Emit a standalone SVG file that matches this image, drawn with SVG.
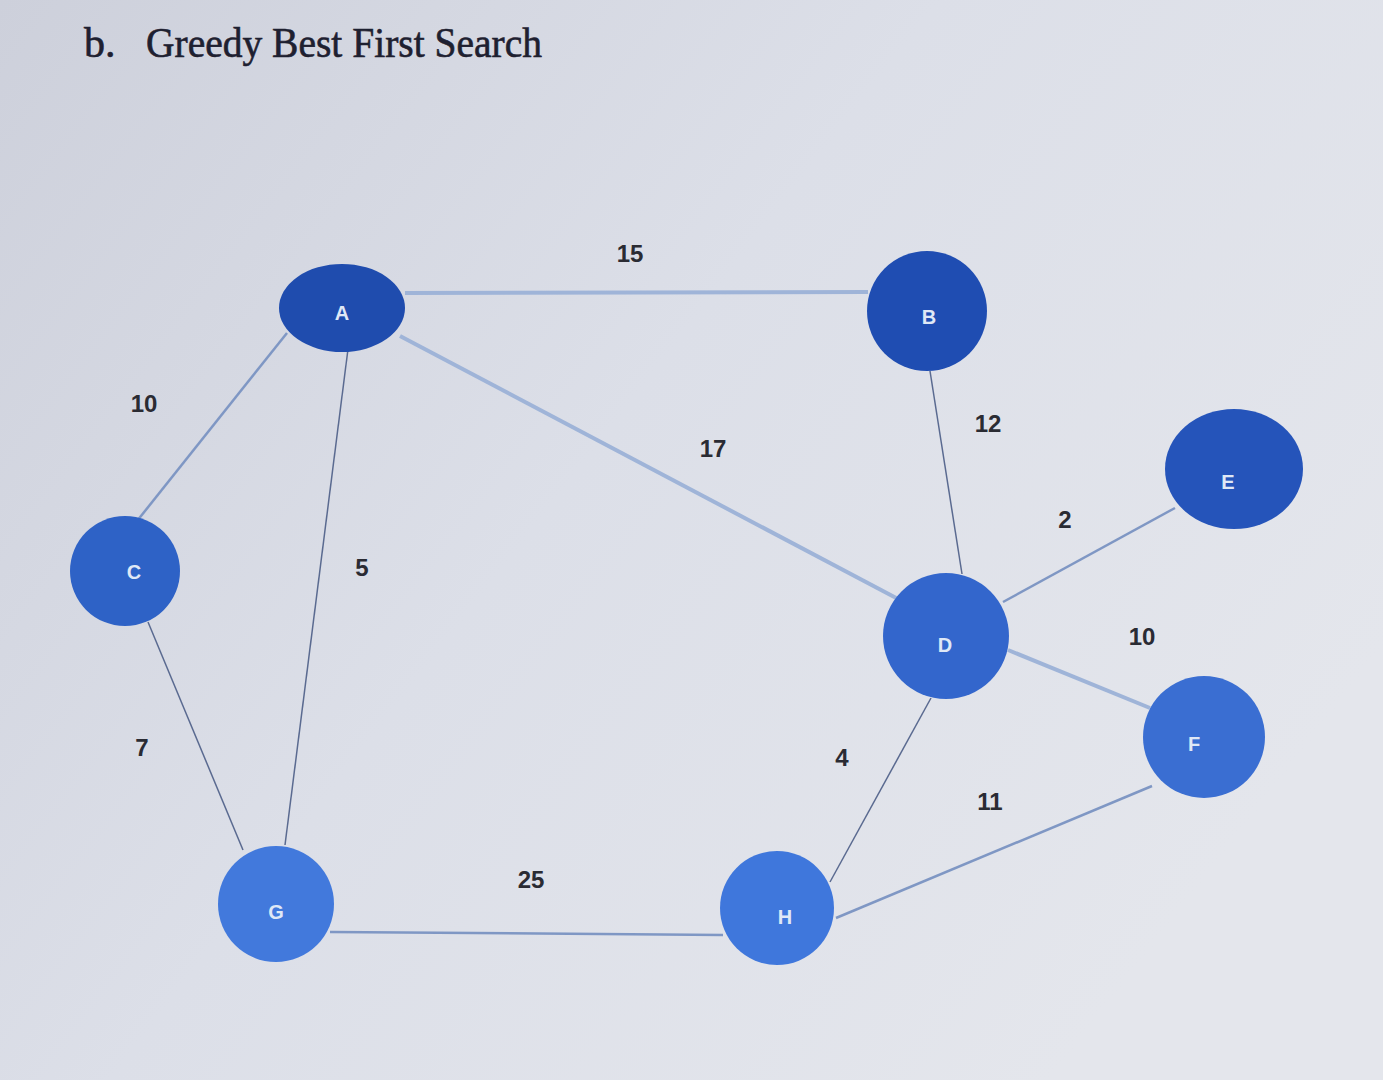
<svg xmlns="http://www.w3.org/2000/svg" width="1383" height="1080" viewBox="0 0 1383 1080">
  <defs>
    <linearGradient id="bg" x1="0" y1="0" x2="1" y2="0.6">
      <stop offset="0" stop-color="#cdd0db"/>
      <stop offset="0.5" stop-color="#dcdfe8"/>
      <stop offset="1" stop-color="#e4e6ec"/>
    </linearGradient>
  </defs>
  <style>
    .title { font-family: "Liberation Serif", "Times New Roman", serif; font-size: 42px; fill: #1e2030; stroke: #1e2030; stroke-width: 0.6; }
    .node-label { font-family: "Liberation Sans", Arial, sans-serif; font-weight: bold; font-size: 20px; fill: #dfe8f6; text-anchor: middle; }
    .edge-label { font-family: "Liberation Sans", Arial, sans-serif; font-weight: bold; font-size: 24px; fill: #2a2b33; text-anchor: middle; }
    .thin { stroke: #5a6a90; stroke-width: 1.5; fill: none; }
    .mid { stroke: #7f97c4; stroke-width: 2.5; fill: none; }
    .thick { stroke: #9fb4d8; stroke-width: 4; fill: none; }
  </style>
  <rect x="0" y="0" width="1383" height="1080" fill="url(#bg)"/>

  <text class="title" x="84" y="57">b.</text>
  <text class="title" x="146" y="57" textLength="396" lengthAdjust="spacingAndGlyphs">Greedy Best First Search</text>

  <g id="connectors">
    <line class="thick" x1="405" y1="293" x2="868" y2="292"/>
    <line class="mid" x1="287" y1="333" x2="137" y2="521"/>
    <line class="thin" x1="348" y1="349" x2="285" y2="845"/>
    <line class="thick" x1="400" y1="336" x2="900" y2="600"/>
    <line class="thin" x1="930" y1="371" x2="962" y2="574"/>
    <line class="mid" x1="1003" y1="602" x2="1175" y2="508"/>
    <line class="thick" x1="1008" y1="650" x2="1150" y2="708"/>
    <line class="thin" x1="931" y1="698" x2="830" y2="882"/>
    <line class="mid" x1="836" y1="918" x2="1152" y2="786"/>
    <line class="thin" x1="148" y1="622" x2="243" y2="850"/>
    <line class="mid" x1="330" y1="932" x2="723" y2="935"/>
  </g>

  <g id="edge-labels">
    <text class="edge-label" x="630" y="262">15</text>
    <text class="edge-label" x="144" y="412">10</text>
    <text class="edge-label" x="713" y="457">17</text>
    <text class="edge-label" x="988" y="432">12</text>
    <text class="edge-label" x="1065" y="528">2</text>
    <text class="edge-label" x="362" y="576">5</text>
    <text class="edge-label" x="1142" y="645">10</text>
    <text class="edge-label" x="142" y="756">7</text>
    <text class="edge-label" x="842" y="766">4</text>
    <text class="edge-label" x="990" y="810">11</text>
    <text class="edge-label" x="531" y="888">25</text>
  </g>

  <g id="node-A">
    <ellipse cx="342" cy="308" rx="63" ry="44" fill="#1f4cae"/>
    <text class="node-label" x="342" y="320">A</text>
  </g>
  <g id="node-B">
    <circle cx="927" cy="311" r="60" fill="#1f4db2"/>
    <text class="node-label" x="929" y="324">B</text>
  </g>
  <g id="node-E">
    <ellipse cx="1234" cy="469" rx="69" ry="60" fill="#2554ba"/>
    <text class="node-label" x="1228" y="489">E</text>
  </g>
  <g id="node-C">
    <circle cx="125" cy="571" r="55" fill="#2e62c6"/>
    <text class="node-label" x="134" y="579">C</text>
  </g>
  <g id="node-D">
    <circle cx="946" cy="636" r="63" fill="#3366cc"/>
    <text class="node-label" x="945" y="652">D</text>
  </g>
  <g id="node-F">
    <circle cx="1204" cy="737" r="61" fill="#3a6ed2"/>
    <text class="node-label" x="1194" y="751">F</text>
  </g>
  <g id="node-G">
    <circle cx="276" cy="904" r="58" fill="#4279dc"/>
    <text class="node-label" x="276" y="919">G</text>
  </g>
  <g id="node-H">
    <circle cx="777" cy="908" r="57" fill="#3f77dc"/>
    <text class="node-label" x="785" y="924">H</text>
  </g>
</svg>
